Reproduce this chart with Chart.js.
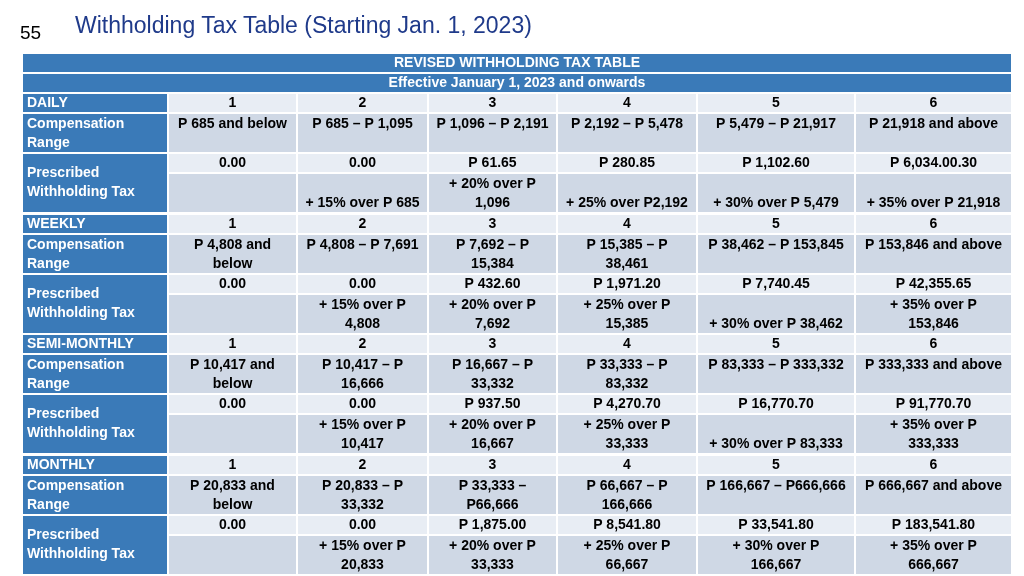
<!DOCTYPE html>
<html><head><meta charset="utf-8">
<script src="https://cdn.jsdelivr.net/npm/chart.js@4"></script>
<style>
html,body{margin:0;padding:0;background:#fff;width:1024px;height:576px;overflow:hidden;font-family:"Liberation Sans",Arial,sans-serif}
#c{position:absolute;left:0;top:0}
#num{position:absolute;left:20px;top:22px;font-size:19px;color:#000}
#title{position:absolute;left:75px;top:12px;font-size:23px;color:#1f3a8a}
</style></head><body>
<canvas id="c" width="1024" height="576"></canvas>
<div id="num">55</div>
<div id="title">Withholding Tax Table (Starting Jan. 1, 2023)</div>
<script>
const header1 = "REVISED WITHHOLDING TAX TABLE";
const header2 = "Effective January 1, 2023 and onwards";
const periods = ["DAILY","WEEKLY","SEMI-MONTHLY","MONTHLY"];
const brackets = ["1","2","3","4","5","6"];
const rowLabels = ["Compensation\nRange","Prescribed\nWithholding Tax"];
const compDaily = ["P 685 and below","P 685 – P 1,095","P 1,096 – P 2,191","P 2,192 – P 5,478","P 5,479 – P 21,917","P 21,918 and above"];
const baseDaily = ["0.00","0.00","P 61.65","P 280.85","P 1,102.60","P 6,034.00.30"];
const excessDaily = ["","+ 15% over P 685","+ 20% over P\n1,096","+ 25% over P2,192","+ 30% over P 5,479","+ 35% over P 21,918"];
const compWeekly = ["P 4,808 and\nbelow","P 4,808 – P 7,691","P 7,692 – P\n15,384","P 15,385 – P\n38,461","P 38,462 – P 153,845","P 153,846 and above"];
const baseWeekly = ["0.00","0.00","P 432.60","P 1,971.20","P 7,740.45","P 42,355.65"];
const excessWeekly = ["","+ 15% over P\n4,808","+ 20% over P\n7,692","+ 25% over P\n15,385","+ 30% over P 38,462","+ 35% over P\n153,846"];
const compSemi = ["P 10,417 and\nbelow","P 10,417 – P\n16,666","P 16,667 – P\n33,332","P 33,333 – P\n83,332","P 83,333 – P 333,332","P 333,333 and above"];
const baseSemi = ["0.00","0.00","P 937.50","P 4,270.70","P 16,770.70","P 91,770.70"];
const excessSemi = ["","+ 15% over P\n10,417","+ 20% over P\n16,667","+ 25% over P\n33,333","+ 30% over P 83,333","+ 35% over P\n333,333"];
const compMonthly = ["P 20,833 and\nbelow","P 20,833 – P\n33,332","P 33,333 –\nP66,666","P 66,667 – P\n166,666","P 166,667 – P666,666","P 666,667 and above"];
const baseMonthly = ["0.00","0.00","P 1,875.00","P 8,541.80","P 33,541.80","P 183,541.80"];
const excessMonthly = ["","+ 15% over P\n20,833","+ 20% over P\n33,333","+ 25% over P\n66,667","+ 30% over P\n166,667","+ 35% over P\n666,667"];

const sections = [
  [compDaily, baseDaily, excessDaily],
  [compWeekly, baseWeekly, excessWeekly],
  [compSemi, baseSemi, excessSemi],
  [compMonthly, baseMonthly, excessMonthly]
];

// layout (table coordinates)
const colEdges = [22,168,297,428,557,697,855,1012];
const secTop = [93,214,334,455];
const rowH = [20,40,20,40];
const BLUE = "#3a7ab8", LIGHT = "#e8edf4", DARK = "#cfd8e5";

const tablePlugin = {
  id:'table',
  afterDraw(chart){
    const ctx = chart.ctx, xs = chart.scales.x, ys = chart.scales.y;
    const X = v=>xs.getPixelForValue(v), Y = v=>ys.getPixelForValue(v);
    ctx.save();
    ctx.font = "bold 14px 'Liberation Sans', Arial, sans-serif";
    const LH = 19;
    function cell(x0,y0,x1,y1,fill,text,color,align,valign){
      const px0=X(x0)+1, py0=Y(y0)+1, px1=X(x1)-1, py1=Y(y1)-1;
      ctx.fillStyle=fill; ctx.fillRect(px0,py0,px1-px0,py1-py0);
      if(!text) return;
      const lines=text.split("\n");
      ctx.fillStyle=color; ctx.textBaseline="middle";
      ctx.textAlign=align;
      const tx = align==="left" ? px0+4 : (px0+px1)/2;
      let cy;
      if(valign==="top") cy = py0+10;
      else if(valign==="bottom") cy = py1-9-(lines.length-1)*LH;
      else cy = (py0+py1)/2-(lines.length-1)*LH/2;
      lines.forEach((l,i)=>ctx.fillText(l,tx,cy+i*LH));
    }
    const L=colEdges[0], R=colEdges[colEdges.length-1];
    cell(L,53,R,73,BLUE,header1,"#fff","center","middle");
    cell(L,73,R,93,BLUE,header2,"#fff","center","middle");
    sections.forEach((sec,s)=>{
      let y=secTop[s];
      const y1=y+rowH[0], y2=y1+rowH[1], y3=y2+rowH[2], y4=y3+rowH[3];
      cell(colEdges[0],y,colEdges[1],y1,BLUE,periods[s],"#fff","left","middle");
      cell(colEdges[0],y1,colEdges[1],y2,BLUE,rowLabels[0],"#fff","left","top");
      cell(colEdges[0],y2,colEdges[1],y4,BLUE,rowLabels[1],"#fff","left","middle");
      for(let c=0;c<6;c++){
        const a=colEdges[c+1], b=colEdges[c+2];
        cell(a,y,b,y1,LIGHT,brackets[c],"#000","center","middle");
        cell(a,y1,b,y2,DARK,sec[0][c],"#000","center","top");
        cell(a,y2,b,y3,LIGHT,sec[1][c],"#000","center","middle");
        cell(a,y3,b,y4,DARK,sec[2][c],"#000","center","bottom");
      }
    });
    ctx.restore();
  }
};

new Chart(document.getElementById('c'),{
  type:'scatter',
  data:{datasets:[{data:[],pointRadius:0}]},
  options:{
    responsive:false, animation:false,
    layout:{padding:0},
    plugins:{legend:{display:false},tooltip:{enabled:false}},
    scales:{
      x:{type:'linear',min:0,max:1024,display:false},
      y:{type:'linear',min:0,max:576,reverse:true,display:false}
    }
  },
  plugins:[tablePlugin]
});
</script>
</body></html>
